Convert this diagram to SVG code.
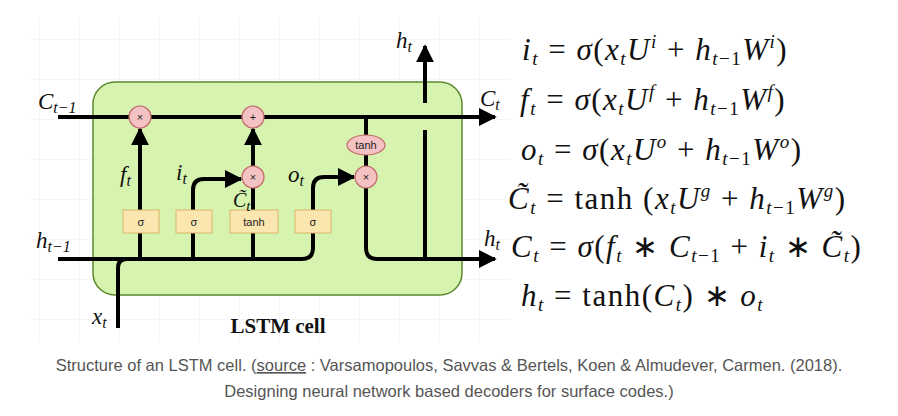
<svg xmlns="http://www.w3.org/2000/svg" width="898" height="416" viewBox="0 0 898 416">
<defs>
<marker id="ah" viewBox="0 0 10 10" refX="9" refY="5" markerWidth="4.5" markerHeight="4.5" orient="auto"><path d="M0,0L10,5L0,10z" fill="#000"/></marker>
<pattern id="grid" width="40" height="40" patternUnits="userSpaceOnUse"><path d="M40 0V40M0 40H40" fill="none" stroke="#ececec" stroke-width="1"/></pattern>
</defs>
<style>
.w{fill:none;stroke:#000;stroke-width:4;stroke-linejoin:round}
.op{fill:#f4c2c2;stroke:#c26b6b;stroke-width:1.2}
.bx{fill:#fbe6b0;stroke:#d9b66a;stroke-width:1}
.s{font-family:"Liberation Sans",Arial,sans-serif;font-size:11px;text-anchor:middle;fill:#222}
.m{font-family:"Liberation Serif",serif;font-style:italic;font-size:23px;fill:#111}
.eq{font-family:"Liberation Serif",serif;font-size:31px;fill:#111;letter-spacing:1.5px}
.i{font-style:italic}
.cap{font-family:"Liberation Sans",Arial,sans-serif;font-size:16.5px;fill:#555;text-anchor:middle}
</style>
<rect width="898" height="416" fill="#fff"/>
<rect x="30" y="20" width="480" height="322" fill="url(#grid)"/>
<g id="cell"><rect x="93" y="82" width="369" height="213" rx="22" fill="#d6f3af" stroke="#5b8a2e" stroke-width="1.5"/></g>
<g id="connectors">
<path class="w" d="M58 117H495" marker-end="url(#ah)"/>
<path class="w" d="M58 259H302q11 0 11-11V188q0-11 11-11H354" marker-end="url(#ah)"/>
<path class="w" d="M118 328V268q0-9 9-9"/>
<path class="w" d="M140 259V129" marker-end="url(#ah)"/>
<path class="w" d="M193 259V190q0-11 11-11H241" marker-end="url(#ah)"/>
<path class="w" d="M253 259V188"/>
<path class="w" d="M253 166V129" marker-end="url(#ah)"/>
<path class="w" d="M366 117V248q0 11 11 11H495" marker-end="url(#ah)"/>
<path class="w" d="M425 259V130"/>
<path class="w" d="M425 103V46" marker-end="url(#ah)"/>
</g>
<g id="ops">
<circle class="op" cx="140" cy="117" r="11"/><text class="s" x="140" y="121">×</text>
<circle class="op" cx="253" cy="117" r="11"/><text class="s" x="253" y="121">+</text>
<circle class="op" cx="253" cy="177" r="11"/><text class="s" x="253" y="181">×</text>
<circle class="op" cx="366" cy="177" r="11"/><text class="s" x="366" y="181">×</text>
<ellipse class="op" cx="366" cy="145" rx="19" ry="10"/><text class="s" x="366" y="149">tanh</text>
</g>
<g id="gates">
<rect class="bx" x="123" y="210" width="36" height="23"/><text class="s" x="141" y="226">σ</text>
<rect class="bx" x="176" y="210" width="36" height="23"/><text class="s" x="194" y="226">σ</text>
<rect class="bx" x="230" y="210" width="48" height="23"/><text class="s" x="254" y="226">tanh</text>
<rect class="bx" x="295" y="210" width="36" height="23"/><text class="s" x="313" y="226">σ</text>
</g>
<g id="labels" class="m">
<text x="38" y="109">C<tspan font-size="16" dy="4">t−1</tspan></text>
<text x="36" y="248">h<tspan font-size="16" dy="4">t−1</tspan></text>
<text x="92" y="324">x<tspan font-size="16" dy="4">t</tspan></text>
<text x="480" y="106">C<tspan font-size="16" dy="4">t</tspan></text>
<text x="484" y="246">h<tspan font-size="16" dy="4">t</tspan></text>
<text x="396" y="48">h<tspan font-size="16" dy="4">t</tspan></text>
<text x="120" y="182">f<tspan font-size="16" dy="4">t</tspan></text>
<text x="176" y="180">i<tspan font-size="16" dy="4">t</tspan></text>
<text x="233" y="207" font-size="20">C̃<tspan font-size="15" dy="4">t</tspan></text>
<text x="288" y="182">o<tspan font-size="16" dy="4">t</tspan></text>
<text x="278" y="333" font-style="normal" font-weight="bold" font-size="21" text-anchor="middle">LSTM cell</text>
</g>
<g id="equations" class="eq">
<text x="522" y="60"><tspan class="i">i</tspan><tspan class="i" font-size="19" dy="5">t</tspan><tspan dy="-5"> = </tspan><tspan class="i">σ</tspan>(<tspan class="i">x</tspan><tspan class="i" font-size="19" dy="5">t</tspan><tspan class="i" dy="-5">U</tspan><tspan class="i" font-size="19" dy="-12">i</tspan><tspan dy="12"> + </tspan><tspan class="i">h</tspan><tspan class="i" font-size="19" dy="5">t</tspan><tspan font-size="19">−1</tspan><tspan class="i" dy="-5">W</tspan><tspan class="i" font-size="19" dy="-12">i</tspan><tspan dy="12">)</tspan></text>
<text x="520" y="110"><tspan class="i">f</tspan><tspan class="i" font-size="19" dy="5">t</tspan><tspan dy="-5"> = </tspan><tspan class="i">σ</tspan>(<tspan class="i">x</tspan><tspan class="i" font-size="19" dy="5">t</tspan><tspan class="i" dy="-5">U</tspan><tspan class="i" font-size="19" dy="-12">f</tspan><tspan dy="12"> + </tspan><tspan class="i">h</tspan><tspan class="i" font-size="19" dy="5">t</tspan><tspan font-size="19">−1</tspan><tspan class="i" dy="-5">W</tspan><tspan class="i" font-size="19" dy="-12">f</tspan><tspan dy="12">)</tspan></text>
<text x="521" y="160"><tspan class="i">o</tspan><tspan class="i" font-size="19" dy="5">t</tspan><tspan dy="-5"> = </tspan><tspan class="i">σ</tspan>(<tspan class="i">x</tspan><tspan class="i" font-size="19" dy="5">t</tspan><tspan class="i" dy="-5">U</tspan><tspan class="i" font-size="19" dy="-12">o</tspan><tspan dy="12"> + </tspan><tspan class="i">h</tspan><tspan class="i" font-size="19" dy="5">t</tspan><tspan font-size="19">−1</tspan><tspan class="i" dy="-5">W</tspan><tspan class="i" font-size="19" dy="-12">o</tspan><tspan dy="12">)</tspan></text>
<text x="508" y="209"><tspan class="i">C̃</tspan><tspan class="i" font-size="19" dy="5">t</tspan><tspan dy="-5"> = tanh (</tspan><tspan class="i">x</tspan><tspan class="i" font-size="19" dy="5">t</tspan><tspan class="i" dy="-5">U</tspan><tspan class="i" font-size="19" dy="-12">g</tspan><tspan dy="12"> + </tspan><tspan class="i">h</tspan><tspan class="i" font-size="19" dy="5">t</tspan><tspan font-size="19">−1</tspan><tspan class="i" dy="-5">W</tspan><tspan class="i" font-size="19" dy="-12">g</tspan><tspan dy="12">)</tspan></text>
<text x="511" y="257"><tspan class="i">C</tspan><tspan class="i" font-size="19" dy="5">t</tspan><tspan dy="-5"> = </tspan><tspan class="i">σ</tspan>(<tspan class="i">f</tspan><tspan class="i" font-size="19" dy="5">t</tspan><tspan dy="-5"> ∗ </tspan><tspan class="i">C</tspan><tspan class="i" font-size="19" dy="5">t</tspan><tspan font-size="19">−1</tspan><tspan dy="-5"> + </tspan><tspan class="i">i</tspan><tspan class="i" font-size="19" dy="5">t</tspan><tspan dy="-5"> ∗ </tspan><tspan class="i">C̃</tspan><tspan class="i" font-size="19" dy="5">t</tspan><tspan dy="-5">)</tspan></text>
<text x="521" y="306"><tspan class="i">h</tspan><tspan class="i" font-size="19" dy="5">t</tspan><tspan dy="-5"> = tanh(</tspan><tspan class="i">C</tspan><tspan class="i" font-size="19" dy="5">t</tspan><tspan dy="-5">) ∗ </tspan><tspan class="i">o</tspan><tspan class="i" font-size="19" dy="5">t</tspan></text>
</g>
<g id="caption" class="cap">
<text x="449" y="371">Structure of an LSTM cell. (<tspan text-decoration="underline">source</tspan> : Varsamopoulos, Savvas &amp; Bertels, Koen &amp; Almudever, Carmen. (2018).</text>
<text x="449" y="397">Designing neural network based decoders for surface codes.)</text>
</g>
</svg>
